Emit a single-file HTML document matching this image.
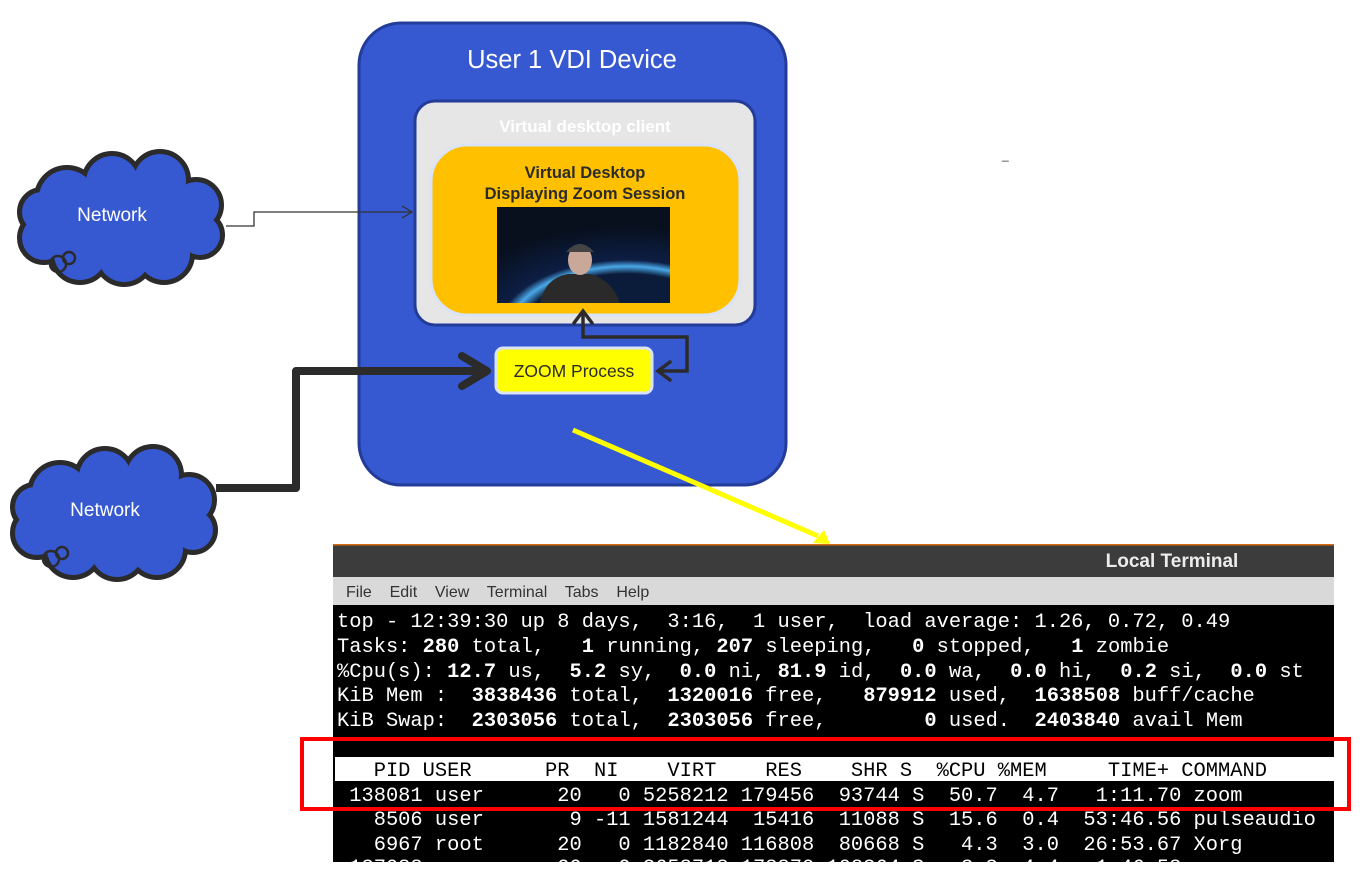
<!DOCTYPE html>
<html><head><meta charset="utf-8"><style>
html,body{margin:0;padding:0;background:#fff;width:1365px;height:882px;overflow:hidden}
svg{display:block}
.t{font-family:"Liberation Mono",monospace;font-size:20.4px;fill:#fff;white-space:pre}
.b{font-weight:bold}
</style></head><body>
<svg width="1365" height="882" viewBox="0 0 1365 882" xmlns="http://www.w3.org/2000/svg">
<defs>
<g id="cloud">
 <g fill="#3658d0" stroke="#2b2b2b" stroke-width="6">
  <circle cx="55" cy="48" r="30"/><circle cx="100" cy="32" r="28"/><circle cx="148" cy="30" r="28"/>
  <circle cx="184" cy="55" r="25"/><circle cx="188" cy="85" r="22"/><circle cx="152" cy="104" r="28"/>
  <circle cx="112" cy="106" r="28"/><circle cx="68" cy="104" r="28"/><circle cx="32" cy="88" r="24"/><circle cx="30" cy="62" r="22"/>
 </g>
 <g fill="#3658d0">
  <circle cx="55" cy="48" r="28"/><circle cx="100" cy="32" r="26"/><circle cx="148" cy="30" r="26"/>
  <circle cx="184" cy="55" r="23"/><circle cx="188" cy="85" r="20"/><circle cx="152" cy="104" r="26"/>
  <circle cx="112" cy="106" r="26"/><circle cx="68" cy="104" r="26"/><circle cx="32" cy="88" r="22"/><circle cx="30" cy="62" r="20"/>
  <ellipse cx="108" cy="70" rx="80" ry="45"/>
 </g>
 <g fill="none" stroke="#2b2b2b" stroke-width="2.5">
  <circle cx="46" cy="114" r="8"/><circle cx="57" cy="108" r="6"/>
 </g>
</g>
</defs>

<use href="#cloud" x="12" y="150"/>
<text x="112" y="221" font-family="Liberation Sans,sans-serif" font-size="19" fill="#fff" text-anchor="middle">Network</text>
<use href="#cloud" x="5" y="445"/>
<text x="105" y="516" font-family="Liberation Sans,sans-serif" font-size="19" fill="#fff" text-anchor="middle">Network</text>

<rect x="359" y="23" width="427" height="462" rx="42" fill="#3658d0" stroke="#233c99" stroke-width="3"/>
<text x="572" y="68" font-family="Liberation Sans,sans-serif" font-size="25.5" fill="#fff" text-anchor="middle">User 1 VDI Device</text>

<rect x="415" y="101" width="340" height="224" rx="20" fill="#e6e6e6" stroke="#233c99" stroke-width="3"/>
<text x="585" y="132" font-family="Liberation Sans,sans-serif" font-size="17" font-weight="bold" fill="#fff" text-anchor="middle">Virtual desktop client</text>
<rect x="431" y="145" width="309" height="170" rx="36" fill="#ffc000" stroke="#dbe3f8" stroke-width="3"/>
<text x="585" y="178" font-family="Liberation Sans,sans-serif" font-size="16.5" font-weight="bold" fill="#2b2b2b" text-anchor="middle">Virtual Desktop</text>
<text x="585" y="199" font-family="Liberation Sans,sans-serif" font-size="16.5" font-weight="bold" fill="#2b2b2b" text-anchor="middle">Displaying Zoom Session</text>
<defs><radialGradient id="earth" cx="0.75" cy="1.3" r="1.1"><stop offset="0.55" stop-color="#0b1c3a"/><stop offset="0.62" stop-color="#4aa8e8"/><stop offset="0.68" stop-color="#0d1e44"/><stop offset="1" stop-color="#08101e"/></radialGradient></defs>
<rect x="497" y="207" width="173" height="96" fill="url(#earth)"/>
<path d="M540 303 Q545 278 568 274 L590 274 Q612 280 620 303 Z" fill="#2a2a2a"/>
<ellipse cx="580" cy="260" rx="12" ry="15" fill="#c9a89a"/>
<path d="M566 252 Q580 236 594 252 Z" fill="#444"/>

<rect x="496" y="348" width="156" height="45" rx="7" fill="#ffff00" stroke="#dbe3f8" stroke-width="3"/>
<text x="574" y="377" font-family="Liberation Sans,sans-serif" font-size="17.5" fill="#2b2b2b" text-anchor="middle">ZOOM Process</text>

<polyline points="226,226 254,226 254,212 411,212" fill="none" stroke="#333" stroke-width="1.3"/>
<polyline points="402,206 412,212 402,218" fill="none" stroke="#333" stroke-width="1.3"/>
<polyline points="216,488 296,488 296,371 485,371" fill="none" stroke="#2b2b2b" stroke-width="8" stroke-linejoin="round"/>
<polyline points="462,356 487,371 462,386" fill="none" stroke="#2b2b2b" stroke-width="8" stroke-linecap="round" stroke-linejoin="round"/>
<polyline points="583,312 583,337 687,337 687,371 660,371" fill="none" stroke="#2b2b2b" stroke-width="3.5"/>
<polyline points="574,323 583,311 592,323" fill="none" stroke="#2b2b2b" stroke-width="3.5" stroke-linecap="round"/>
<polyline points="670,362 658,371 670,380" fill="none" stroke="#2b2b2b" stroke-width="3.5" stroke-linecap="round"/>
<text x="1002" y="159" font-family="Liberation Sans,sans-serif" font-size="12" fill="#333">_</text>

<rect x="333" y="544" width="1001" height="318" fill="#000"/>
<rect x="333" y="544" width="1001" height="33" fill="#3c3c3c"/>
<rect x="333" y="544" width="1001" height="1.5" fill="#d96a10"/>
<text x="1172" y="567" font-family="Liberation Sans,sans-serif" font-size="19" font-weight="bold" fill="#ececec" text-anchor="middle">Local Terminal</text>
<rect x="333" y="577" width="1001" height="28" fill="#d9d9d9"/>
<text x="346" y="597" font-family="Liberation Sans,sans-serif" font-size="16" fill="#333" style="white-space:pre">File    Edit    View    Terminal    Tabs    Help</text>
<text class="t" x="337" y="627">top - 12:39:30 up 8 days,  3:16,  1 user,  load average: 1.26, 0.72, 0.49</text>
<text class="t" x="337" y="652">Tasks: <tspan class="b">280</tspan> total,   <tspan class="b">1</tspan> running, <tspan class="b">207</tspan> sleeping,   <tspan class="b">0</tspan> stopped,   <tspan class="b">1</tspan> zombie</text>
<text class="t" x="337" y="677">%Cpu(s): <tspan class="b">12.7</tspan> us,  <tspan class="b">5.2</tspan> sy,  <tspan class="b">0.0</tspan> ni, <tspan class="b">81.9</tspan> id,  <tspan class="b">0.0</tspan> wa,  <tspan class="b">0.0</tspan> hi,  <tspan class="b">0.2</tspan> si,  <tspan class="b">0.0</tspan> st</text>
<text class="t" x="337" y="701">KiB Mem :  <tspan class="b">3838436</tspan> total,  <tspan class="b">1320016</tspan> free,   <tspan class="b">879912</tspan> used,  <tspan class="b">1638508</tspan> buff/cache</text>
<text class="t" x="337" y="726">KiB Swap:  <tspan class="b">2303056</tspan> total,  <tspan class="b">2303056</tspan> free,        <tspan class="b">0</tspan> used.  <tspan class="b">2403840</tspan> avail Mem</text>
<rect x="335" y="757" width="999" height="24" fill="#fff"/>
<text class="t" x="337" y="776" style="fill:#000">   PID USER      PR  NI    VIRT    RES    SHR S  %CPU %MEM     TIME+ COMMAND</text>
<text class="t" x="337" y="801"> 138081 user      20   0 5258212 179456  93744 S  50.7  4.7   1:11.70 zoom</text>
<text class="t" x="337" y="825">   8506 user       9 -11 1581244  15416  11088 S  15.6  0.4  53:46.56 pulseaudio</text>
<text class="t" x="337" y="850">   6967 root      20   0 1182840 116808  80668 S   4.3  3.0  26:53.67 Xorg</text>
<text class="t" x="337" y="873"> 137088 user      20   0 3658718 178872 108364 S   3.3  4.4   1:46.58 zoom</text>
<rect x="0" y="862" width="1365" height="20" fill="#fff"/>
<rect x="302" y="739" width="1047" height="70" fill="none" stroke="#ff0000" stroke-width="4"/>

<line x1="573" y1="430" x2="818" y2="536" stroke="#ffff00" stroke-width="5"/>
<polygon points="830,544 813,543 824,530" fill="#ffff00"/>
</svg>
</body></html>
